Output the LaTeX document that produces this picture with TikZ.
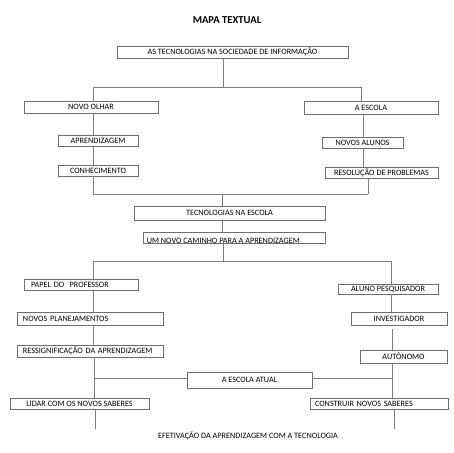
\documentclass[tikz,border=0pt]{standalone}
\usepackage{fontspec}
\setmainfont{Carlito}
\usepackage{xcolor}

\definecolor{boxgray}{RGB}{110,110,110}
\definecolor{linegray}{RGB}{125,125,125}

\tikzset{
	mapbox/.style={draw=boxgray, line width=0.8pt, inner sep=0pt, font=\fontsize{8.2}{9}\selectfont},
	leftbox/.style={mapbox, align=left, text width=#1},
	link/.style={draw=linegray, line width=0.7pt}
}

\begin{document}
\begin{tikzpicture}[x=1pt, y=-1pt]
	
	\useasboundingbox (0,0) rectangle (453,453);
	
	% Title
	\node[font=\fontsize{10.6}{12}\selectfont\bfseries] (title) at (227,20) {MAPA TEXTUAL};
	
	% Upper part
	\node[mapbox, minimum width=231, minimum height=12] (soc) at (232.5,52) {AS TECNOLOGIAS NA SOCIEDADE DE INFORMAÇÃO};
	\node[mapbox, minimum width=134, minimum height=12] (olhar) at (91,107) {NOVO OLHAR};
	\node[mapbox, minimum width=134, minimum height=13] (escola) at (371,107.5) {A ESCOLA};
	\node[mapbox, minimum width=80, minimum height=11] (aprend) at (98,140.5) {APRENDIZAGEM};
	\node[mapbox, minimum width=80, minimum height=11] (conhec) at (98,170.5) {CONHECIMENTO};
	\node[mapbox, minimum width=81, minimum height=11] (alunos) at (362.5,142.5) {NOVOS ALUNOS};
	\node[mapbox, minimum width=113, minimum height=11] (resol) at (381.5,172.5) {RESOLUÇÃO DE PROBLEMAS};
	\node[mapbox, minimum width=191, minimum height=14] (tecesc) at (229.5,213) {TECNOLOGIAS NA ESCOLA};
	
	% Middle box, text cut by its lower edge
	\node[mapbox, minimum width=182, minimum height=11] (caminho) at (234,237.5) {};
	\begin{scope}
		\clip (caminho.north west) rectangle (caminho.south east);
		\node[font=\fontsize{8.2}{9}\selectfont, anchor=west, inner sep=0pt] (caminhotxt) at ([xshift=4pt, yshift=-3pt]caminho.west) {UM NOVO CAMINHO PARA A APRENDIZAGEM};
	\end{scope}
	
	% Lower left
	\node[leftbox=100, minimum height=11, inner xsep=7] (papel) at (81,284.5) {PAPEL DO\ \ PROFESSOR};
	\node[leftbox=134, minimum height=13, inner xsep=6] (planej) at (90,318.5) {NOVOS PLANEJAMENTOS};
	\node[leftbox=134, minimum height=12, inner xsep=6] (ressig) at (90,351) {RESSIGNIFICAÇÃO DA APRENDIZAGEM};
	\node[mapbox, minimum width=139, minimum height=11] (lidar) at (79.5,403.5) {LIDAR COM OS NOVOS SABERES};
	\node[mapbox, minimum width=125, minimum height=16] (atual) at (249.5,380) {A ESCOLA ATUAL};
	
	% Lower right
	\node[mapbox, minimum width=100, minimum height=10] (pesq) at (388,289) {ALUNO PESQUISADOR};
	\node[mapbox, minimum width=96, minimum height=13] (invest) at (399,318.5) {INVESTIGADOR};
	\node[mapbox, minimum width=87, minimum height=13] (auton) at (403.5,356.5) {AUTÔNOMO};
	\node[leftbox=128, minimum height=11, inner xsep=5] (construir) at (379,403.5) {CONSTRUIR NOVOS SABERES};
	
	% Bottom text
	\node[font=\fontsize{8.2}{9}\selectfont] (efet) at (248,436) {EFETIVAÇÃO DA APRENDIZAGEM COM A TECNOLOGIA};
	
	% Junction points
	\coordinate (top) at (223,87);
	\coordinate (l1) at (93,87);
	\coordinate (r1) at (361,87);
	\coordinate (l2) at (93,194);
	\coordinate (r2) at (368,194);
	\coordinate (mid) at (222,194);
	\coordinate (split) at (223,261);
	\coordinate (l3) at (93,261);
	\coordinate (r3) at (391,261);
	\coordinate (l4) at (94,378);
	\coordinate (r4) at (392,378);
	\coordinate (lend) at (95,429);
	\coordinate (rend) at (394,429);
	\coordinate (rgap) at (392,329);
	
	% Connecting lines, upper part
	\draw[link] (soc.south -| top) -- (top);
	\draw[link] (l1) -- (r1);
	\draw[link] (l1) -- (l1 |- olhar.north);
	\draw[link] (r1) -- (r1 |- escola.north);
	\draw[link] (olhar.south -| l1) -- (aprend.north -| l1);
	\draw[link] (aprend.south -| l1) -- (conhec.north -| l1);
	\draw[link] (conhec.south -| l1) -- (l2);
	\draw[link] (escola.south -| 363,0) -- (alunos.north -| 363,0);
	\draw[link] (alunos.south -| 363,0) -- (resol.north -| 363,0);
	\draw[link] (resol.south -| r2) -- (r2);
	\draw[link] (l2) -- (r2);
	\draw[link] (mid) -- (mid |- tecesc.north);
	\draw[link] (tecesc.south -| mid) -- (caminho.north -| mid);
	
	% Connecting lines, lower part
	\draw[link] (caminho.south -| split) -- (split);
	\draw[link] (l3) -- (r3);
	\draw[link] (l3) -- (l3 |- papel.north);
	\draw[link] (papel.south -| l3) -- (planej.north -| l3);
	\draw[link] (planej.south -| l3) -- (ressig.north -| l3);
	\draw[link] (ressig.south -| l4) -- (lidar.north -| l4);
	\draw[link] (lidar.south -| lend) -- (lend);
	\draw[link] (l4) -- (l4 -| atual.west);
	\draw[link] (r4 -| atual.east) -- (r4);
	\draw[link] (r3) -- (r3 |- pesq.north);
	\draw[link] (pesq.south -| r3) -- (invest.north -| r3);
	\draw[link] (rgap) -- (rgap |- auton.north);
	\draw[link] (auton.south -| r4) -- (construir.north -| r4);
	\draw[link] (construir.south -| rend) -- (rend);
	
\end{tikzpicture}
\end{document}
